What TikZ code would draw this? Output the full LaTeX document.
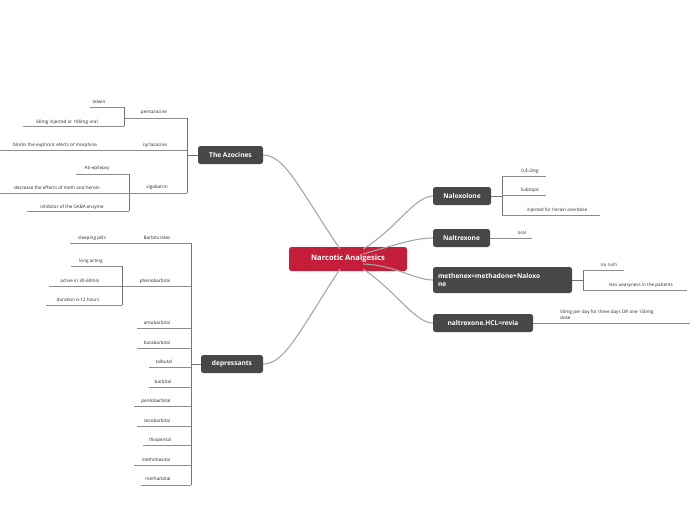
\documentclass[tikz,border=0pt]{standalone}
\usepackage{fontspec}
\setmainfont{Open Sans}
\begin{document}
\begin{tikzpicture}[x=1pt,y=-1pt,
  lf/.style={font=\fontsize{4.6}{5.5}\selectfont, text=black!85, inner sep=0pt},
  ln/.style={draw=black!45, line width=0.6pt},
  br/.style={draw=black!55, line width=0.6pt},
  bx/.style={fill=black!72, rounded corners=2.5pt, text=white, font=\bfseries\fontsize{6.6}{7.6}\selectfont, inner sep=0pt, minimum height=18pt},
  cn/.style={draw=black!35, line width=1.1pt}]
\useasboundingbox (0,0) rectangle (697,520);
% main nodes
\node[bx, fill={rgb,255:red,196;green,30;blue,58}, minimum width=118pt, minimum height=24pt, font=\bfseries\fontsize{7.6}{9}\selectfont] (c) at (348,259) {Narcotic Analgesics};
\node[bx, minimum width=65pt] (az) at (230.5,155) {The Azocines};
\node[bx, minimum width=62pt] (dp) at (232,364) {depressants};
\node[bx, minimum width=58pt] (nx) at (462,196) {Naloxolone};
\node[bx, minimum width=57pt] (nt) at (461.5,238) {Naltrexone};
\node[bx, minimum width=139pt, minimum height=26pt, align=left, text width=129pt] (me) at (502.5,280) {methenex=methadone+Naloxo\\ne};
\node[bx, minimum width=100pt] (rv) at (483,323) {naltrexone.HCL=revia};
% central connectors
\draw[cn] (c.center) ++(-8,-10) .. controls (300,190) and (285,155) .. (az.east);
\draw[cn] (c.center) ++(-8,10) .. controls (300,330) and (285,364) .. (dp.east);
\draw[cn] (c.center) ++(15,-10) .. controls (395,230) and (415,196) .. (nx.west);
\draw[cn] (c.center) ++(15,-5) .. controls (395,245) and (415,238) .. (nt.west);
\draw[cn] (c.center) ++(15,5) .. controls (395,265) and (415,280) .. (me.west);
\draw[cn] (c.center) ++(15,10) .. controls (395,290) and (415,323) .. (rv.west);
% Azocines
\draw[br] (az.west) -- (187,155) (187,118) -- (187,193);
\draw[ln] (124,118) -- (187,118); \node[lf] (pz) at (154,112) {pentazocine};
\draw[ln] (0,150) -- (187,150); \node[lf] (cy) at (155,145) {cyclazocine};
\draw[ln] (130,193) -- (187,193); \node[lf] (vg) at (157,187.5) {vigabatrin};
\draw[br] (124,107) -- (124,126);
\draw[ln] (90,107) -- (124,107); \node[lf] (tw) at (99,102) {talwin};
\draw[ln] (23,126) -- (124,126); \node[lf] (mg) at (67,122) {60mg injected or 180mg oral};
\node[lf] (bl) at (55,145) {blocks the euphoric efects of morphine};
\draw[br] (129,174) -- (129,211);
\draw[ln] (76,174) -- (129,174); \node[lf] (ae) at (97,168) {Ati-epilepsy};
\draw[ln] (0,193) -- (130,193); \node[lf] (dc) at (57,187.5) {decrease the effects of meth and heroin};
\draw[ln] (27,211) -- (129,211); \node[lf] (ih) at (72,207) {inhibitor of the GABA enzyme};
% depressants
\draw[br] (dp.west) -- (191,364) (191,243) -- (191,485);
\draw[ln] (70,243) -- (191,243); \node[lf] (bb) at (157,238) {Barbiturates};
\node[lf] (sp) at (92,238) {sleeping pills};
\draw[ln] (122,286) -- (191,286); \node[lf] (pb) at (155,281) {phenobarbital};
\draw[br] (122,266) -- (122,305);
\draw[ln] (71,266) -- (122,266); \node[lf] (la) at (91,261) {long acting};
\draw[ln] (49,286) -- (122,286); \node[lf] (ac) at (80,281) {active in 30-60min};
\draw[ln] (46,305) -- (122,305); \node[lf] (du) at (78,300) {duration 6-12 hours};
\draw[ln] (137,328) -- (191,328); \node[lf] (am) at (157,323) {amobarbital};
\draw[ln] (137,348) -- (191,348); \node[lf] (bu) at (157,343) {butabarbital};
\draw[ln] (149,367) -- (191,367); \node[lf] (ta) at (164,362) {talbutal};
\draw[ln] (149,387) -- (191,387); \node[lf] (ba) at (163,382) {barbital};
\draw[ln] (134,406) -- (191,406); \node[lf] (pe) at (156,401) {pentobarbital};
\draw[ln] (137,426) -- (191,426); \node[lf] (se) at (157,421) {secobarbital};
\draw[ln] (143,445) -- (191,445); \node[lf] (th) at (160,440) {thiopental};
\draw[ln] (134,465) -- (191,465); \node[lf] (mh) at (156,460) {methohexital};
\draw[ln] (141,485) -- (191,485); \node[lf] (mb) at (158,479) {metharbital};
% right side
\draw[br] (nx.east) -- (502,196) (502,176) -- (502,215);
\draw[ln] (502,176) -- (546,176); \node[lf] (n1) at (530,171) {0.4-2mg};
\draw[ln] (502,195) -- (546,195); \node[lf] (n2) at (530,190) {Subtopic};
\draw[ln] (502,215) -- (600,215); \node[lf] (n3) at (557,210) {injected for heroin overdose};
\draw[ln] (nt.east) -- (532,238); \node[lf] (or) at (522,233) {oral};
\draw[br] (me.east) -- (583,280) (583,270) -- (583,290);
\draw[ln] (583,270) -- (624,270); \node[lf] (nr) at (609,265) {no rush};
\draw[ln] (583,290) -- (687,290); \node[lf] (le) at (641,285) {less ueasyness in the patients};
\draw[ln] (rv.east) -- (690,323);
\node[lf, anchor=west, align=left] (dose) at (560,315) {50mg per day for three days OR one 150mg\\dose};
\end{tikzpicture}
\end{document}
